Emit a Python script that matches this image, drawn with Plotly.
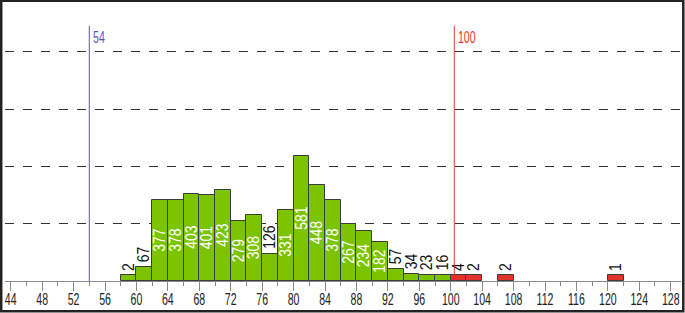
import plotly.graph_objects as go

# ---- data ----
bin_starts = [58, 60, 62, 64, 66, 68, 70, 72, 74, 76, 78, 80, 82, 84, 86, 88, 90, 92, 94, 96, 98, 100, 102, 106, 120]
counts = [2, 67, 377, 378, 403, 401, 423, 279, 308, 126, 331, 581, 448, 378, 267, 234, 182, 57, 34, 23, 16, 4, 2, 2, 1]
bin_width = 2
lower_limit = 54
upper_limit = 100
upper_limit_pos = 100.45
tick_vals = list(range(44, 129, 4))

total = sum(counts)
MIN_PCT = 0.49  # minimum drawn bar height (percent)
INSIDE_MIN = 150  # counts at or above this get label inside

pct = [max(c / total * 100, MIN_PCT) for c in counts]
centers = [s + bin_width / 2 for s in bin_starts]
colors = ["#e3342a" if s >= upper_limit else "#7cc300" for s in bin_starts]
positions = ["inside" if c >= INSIDE_MIN else "outside" for c in counts]

FONT = "Liberation Sans, Arial, sans-serif"

fig = go.Figure()
fig.add_trace(go.Bar(
    x=centers, y=pct, width=bin_width,
    marker=dict(color=colors, line=dict(color="#3c3c3c", width=1)),
    text=[str(c) for c in counts],
    textposition=positions,
    textangle=-90,
    insidetextanchor="middle",
    insidetextfont=dict(color="white", size=16, family=FONT),
    outsidetextfont=dict(color="#111111", size=16, family=FONT),
    cliponaxis=False,
    hoverinfo="skip",
))

W, H = 685, 313
ml, mr, mt, mb = 5, 4, 3, 32
pw, ph = W - ml - mr, H - mt - mb

fig.update_layout(
    width=W, height=H,
    margin=dict(l=ml, r=mr, t=mt, b=mb, autoexpand=False),
    plot_bgcolor="white", paper_bgcolor="white",
    showlegend=False,
    bargap=0,
    uniformtext=dict(minsize=16, mode="show"),
    font=dict(family=FONT, color="#222222"),
)
fig.update_xaxes(
    range=[43.27, 129.31],
    tickvals=tick_vals,
    ticks="outside", ticklen=9, tickcolor="#8a8a8a", tickwidth=1,
    minor=dict(dtick=2, tick0=44, ticks="outside", ticklen=4, tickcolor="#8a8a8a", tickwidth=1),
    showline=True, linecolor="#8a8a8a", linewidth=1,
    showgrid=False, zeroline=False,
    tickfont=dict(size=16, color="#222222", family=FONT),
    ticklabelstandoff=-5,
    automargin=False,
)
fig.update_yaxes(
    range=[0, 24.26],
    dtick=5, tick0=0,
    showticklabels=False,
    showgrid=True, gridcolor="#333333", gridwidth=1, griddash="dash",
    zeroline=False, showline=False,
    automargin=False,
)

line_top = 22.28
fig.add_shape(type="line", x0=lower_limit, x1=lower_limit, y0=0, y1=line_top,
              xref="x", yref="y", line=dict(color="#5a50c8", width=1))
fig.add_shape(type="line", x0=upper_limit_pos, x1=upper_limit_pos, y0=0, y1=line_top,
              xref="x", yref="y", line=dict(color="#e8332a", width=1))
fig.add_annotation(x=lower_limit, y=line_top, xref="x", yref="y", text=str(lower_limit),
                   showarrow=False, xanchor="left", yanchor="top", align="left", xshift=2, yshift=-1,
                   font=dict(size=16, color="#5a50c8", family=FONT))
fig.add_annotation(x=upper_limit_pos, y=line_top, xref="x", yref="y", text=str(upper_limit),
                   showarrow=False, xanchor="left", yanchor="top", align="left", xshift=2, yshift=-1,
                   font=dict(size=16, color="#e8332a", family=FONT))

# outer frame
def px_to_paper_x(px):
    return (px - ml) / pw

def px_to_paper_y(py):
    return (H - mb - py) / ph

fig.add_shape(type="rect", xref="paper", yref="paper",
              x0=px_to_paper_x(1.2), x1=px_to_paper_x(683.3),
              y0=px_to_paper_y(311.3), y1=px_to_paper_y(0.8),
              line=dict(color="#222222", width=2.5), layer="above")

post = """
document.body.style.margin='0';
document.body.style.overflow='hidden';
var gd = document.getElementById('{plot_id}');
function squeeze(sel, f) {
  gd.querySelectorAll(sel).forEach(function(t) {
    var w = t.getComputedTextLength();
    if (w > 0) {
      t.setAttribute('textLength', (w * f).toFixed(2));
      t.setAttribute('lengthAdjust', 'spacingAndGlyphs');
    }
  });
}
squeeze('.xtick text', 0.66);
squeeze('.annotation-text', 0.66);
squeeze('text.bartext', 0.87);
"""

fig.write_html("out.html", config={"displayModeBar": False}, post_script=post)
